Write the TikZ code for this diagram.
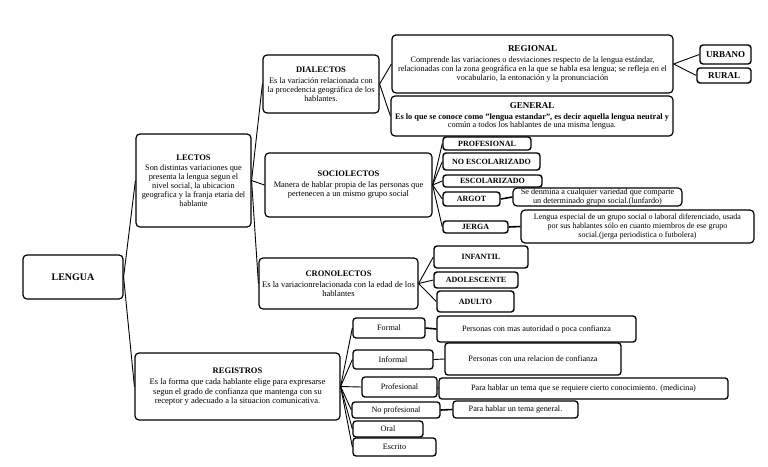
\documentclass[tikz,border=0pt]{standalone}
\usepackage{fontspec}
\setmainfont{Liberation Serif}
\tikzset{
  x=1pt, y=-1pt,
  bx/.style={draw, line width=1.2pt, rounded corners=4pt, align=center, inner sep=1pt,
    font=\fontsize{8.3}{8.9}\selectfont},
  tag/.style={bx, line width=1.4pt, rounded corners=3pt, font=\fontsize{8}{9}\selectfont\bfseries},
  reg/.style={bx, line width=1.3pt, rounded corners=3pt, font=\fontsize{8.2}{9}\selectfont},
  ln/.style={draw, line width=0.9pt},
  lnk/.style={draw, line width=1.6pt},
}
\newcommand\ttl[1]{{\fontsize{8.5}{10}\selectfont\bfseries #1}\\[2pt]}
\newcommand\ttlb[1]{{\fontsize{9}{10}\selectfont\bfseries #1}\\[2pt]}
\begin{document}
\begin{tikzpicture}
\useasboundingbox (0,0) rectangle (768,466);
% main
\node[bx, minimum width=100pt, minimum height=44pt, font=\fontsize{10}{12}\selectfont\bfseries] (lengua) at (73,277) {LENGUA};
\node[bx, minimum width=115pt, minimum height=93pt] (lectos) at (193.5,180.5) {\ttl{LECTOS}Son distintas variaciones que\\presenta la lengua segun el\\nivel social, la ubicacion\\geografica y la franja etaria del\\hablante};
\node[bx, minimum width=205pt, minimum height=67pt, font=\fontsize{8.5}{9.5}\selectfont] (registros) at (237.5,386.5) {\ttl{REGISTROS}Es la forma que cada hablante elige para expresarse\\segun el grado de confianza que mantenga con su\\receptor y adecuado a la situacion comunicativa.};
% lectos children
\node[bx, minimum width=116pt, minimum height=58pt] (dialectos) at (321,84) {\ttl{DIALECTOS}Es la variación relacionada con\\la procedencia geográfica de los\\hablantes.};
\node[bx, minimum width=167pt, minimum height=64pt, font=\fontsize{8.4}{9}\selectfont] (socio) at (348.5,185) {\ttl{SOCIOLECTOS}Manera de hablar propia de las personas que\\pertenecen a un mismo grupo social};
\node[bx, minimum width=159pt, minimum height=51pt, font=\fontsize{8.5}{9}\selectfont] (crono) at (338.5,283.5) {\ttl{CRONOLECTOS}Es la variacionrelacionada con la edad de los\\hablantes};
% dialectos children
\node[bx, minimum width=281pt, minimum height=58pt, font=\fontsize{8.3}{8.8}\selectfont] (regional) at (532.5,64) {\ttlb{REGIONAL}Comprende las variaciones o desviaciones respecto de la lengua estándar,\\relacionadas con la zona geográfica en la que se habla esa lengua; se refleja en el\\vocabulario, la entonación y la pronunciación};
\node[bx, minimum width=282pt, minimum height=40pt, font=\fontsize{8.3}{8.8}\selectfont] (general) at (532,116) {\ttlb{GENERAL}{\bfseries Es lo que se conoce como "lengua estandar", es decir aquella lengua neutral y}\\común a todos los hablantes de una misma lengua.};
\node[tag, minimum width=51pt, minimum height=19pt, font=\fontsize{9}{10}\selectfont\bfseries] (urbano) at (725.5,54.5) {URBANO};
\node[tag, minimum width=54pt, minimum height=15pt, font=\fontsize{9}{10}\selectfont\bfseries] (rural) at (724,75.5) {RURAL};
% sociolectos children
\node[tag, minimum width=88pt, minimum height=13pt] (prof) at (487,143.5) {PROFESIONAL};
\node[tag, minimum width=97pt, minimum height=17pt] (noesc) at (491.5,161.5) {NO ESCOLARIZADO};
\node[tag, minimum width=99pt, minimum height=12pt] (esc) at (492.5,181) {ESCOLARIZADO};
\node[tag, minimum width=57pt, minimum height=14pt] (argot) at (471.5,199) {ARGOT};
\node[tag, minimum width=65pt, minimum height=12pt] (jerga) at (475.5,227) {JERGA};
\node[bx, minimum width=169pt, minimum height=17pt, font=\fontsize{8.2}{8.6}\selectfont] (argotd) at (597.5,197) {Se denmina a cualquier variedad que comparte\\un determinado grupo social.(lunfardo)};
\node[bx, minimum width=233pt, minimum height=33pt, font=\fontsize{8}{8.8}\selectfont] (jergad) at (637.5,226.5) {Lengua especial de un grupo social o laboral diferenciado, usada\\por sus hablantes sólo en cuanto miembros de ese grupo\\social.(jerga periodistica o futbolera)};
% cronolectos children
\node[tag, minimum width=94pt, minimum height=22pt] (infantil) at (481,257) {INFANTIL};
\node[tag, minimum width=84pt, minimum height=16pt] (adol) at (476,280) {ADOLESCENTE};
\node[tag, minimum width=77pt, minimum height=21pt] (adulto) at (475.5,301.5) {ADULTO};
% registros children
\node[reg, minimum width=72pt, minimum height=20pt] (formal) at (389,328) {Formal};
\node[reg, minimum width=80pt, minimum height=19pt] (informal) at (393,359.5) {Informal};
\node[reg, minimum width=75pt, minimum height=20pt] (rprof) at (399.5,387) {Profesional};
\node[reg, minimum width=88pt, minimum height=16pt] (noprof) at (396,410) {No profesional};
\node[reg, minimum width=70pt, minimum height=16pt] (oral) at (388,429) {Oral};
\node[reg, minimum width=83pt, minimum height=18pt] (escrito) at (394.5,447) {Escrito};
\node[reg, minimum width=199pt, minimum height=26pt] (formald) at (536.5,329) {Personas con mas autoridad o poca confianza};
\node[reg, minimum width=176pt, minimum height=32pt] (informald) at (533,359) {Personas con una relacion de confianza};
\node[reg, minimum width=289pt, minimum height=21pt] (rprofd) at (583.5,388.5) {Para hablar un tema que se requiere cierto conocimiento. (medicina)};
\node[reg, minimum width=125pt, minimum height=17pt] (noprofd) at (515.5,409.5) {Para hablar un tema general.};
% connectors
\draw[ln] (lengua.east) -- (lectos.west);
\draw[ln] (lengua.east) -- (registros.west);
\foreach \c in {dialectos,socio,crono} \draw[ln] (lectos.east) -- (\c.west);
\foreach \c in {regional,general} \draw[ln] (dialectos.east) -- (\c.west);
\foreach \c in {urbano,rural} \draw[ln] (regional.east) -- (\c.west);
\foreach \c in {prof,noesc,esc,argot,jerga} \draw[ln] (socio.east) -- (\c.west);
\foreach \c in {infantil,adol,adulto} \draw[ln] (crono.east) -- (\c.west);
\foreach \c in {formal,informal,rprof,noprof,oral,escrito} \draw[ln] (registros.east) -- (\c.west);
\draw[lnk] (argot.east) -- (argotd.west);
\draw[lnk] (jerga.east) -- (jergad.west);
\draw[lnk] (formal.east) -- (formald.west);
\draw[ln] (informal.east) -- (informald.west);
\draw[ln] (rprof.east) -- (rprofd.west);
\draw[lnk] (noprof.east) -- (noprofd.west);
\end{tikzpicture}
\end{document}
